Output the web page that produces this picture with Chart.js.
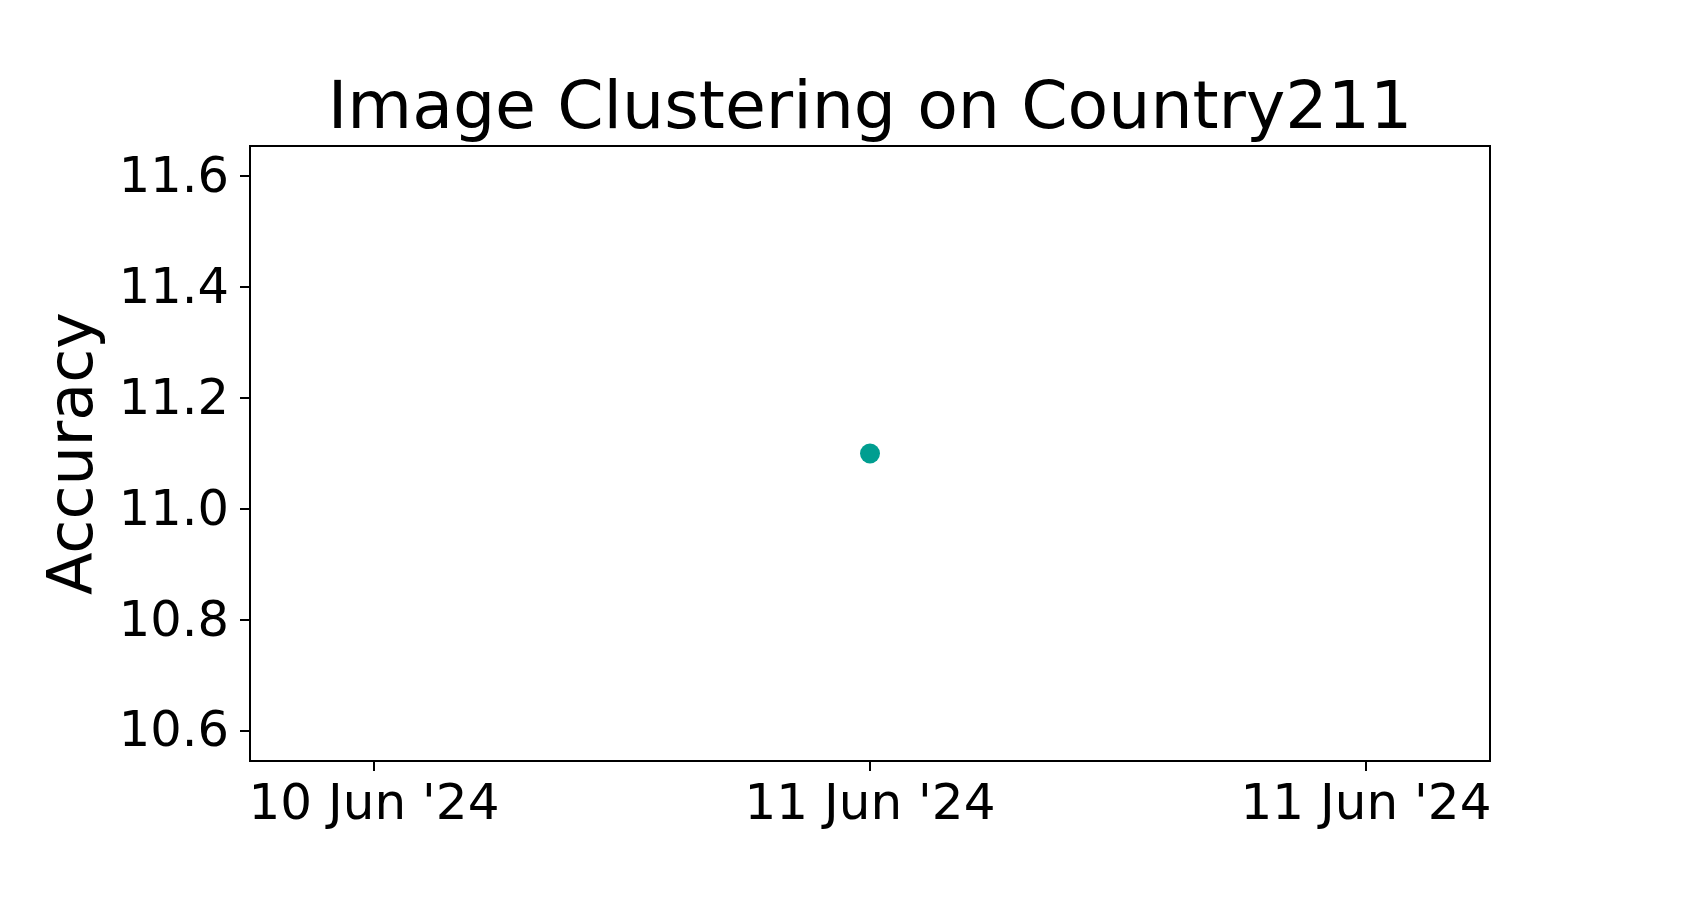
<!DOCTYPE html>
<html>
<head>
  <title>Image Clustering on Country211</title>
  <script src="https://cdn.jsdelivr.net/npm/chart.js"></script>
  <style>
    body {
      margin: 0;
      background: #ffffff;
    }
    #wrap {
      width: 1700px;
      height: 900px;
    }
  </style>
</head>
<body>
  <div id="wrap">
    <canvas id="clusterChart" width="1700" height="900"></canvas>
  </div>

  <script>
    // data
    const xTickPositions = [-1, 0, 1];
    const xTickLabels = ["10 Jun '24", "11 Jun '24", "11 Jun '24"];
    const pointX = [0];
    const accuracy = [11.1];
    const yTickValues = [10.6, 10.8, 11.0, 11.2, 11.4, 11.6];

    Chart.defaults.font.family = "'DejaVu Sans', sans-serif";
    Chart.defaults.color = '#000000';

    // matplotlib style box round the plot area
    const frame = {
      id: 'frame',
      afterDatasetsDraw(chart) {
        const a = chart.chartArea;
        const c = chart.ctx;
        c.save();
        c.strokeStyle = '#000000';
        c.lineWidth = 2;
        c.strokeRect(a.left, a.top, a.right - a.left, a.bottom - a.top);
        c.restore();
      }
    };

    const ctx = document.getElementById('clusterChart').getContext('2d');
    const chart = new Chart(ctx, {
      type: 'scatter',
      data: {
        datasets: [{
          label: 'Accuracy',
          data: pointX.map((x, i) => ({ x: x, y: accuracy[i] })),
          backgroundColor: '#009e90',
          borderWidth: 0,
          pointRadius: 10,
          pointHoverRadius: 10
        }]
      },
      options: {
        responsive: false,
        animation: false,
        devicePixelRatio: 1,
        layout: {
          padding: { left: 0, right: 210, top: 0, bottom: 0 }
        },
        plugins: {
          legend: { display: false },
          tooltip: { enabled: false },
          title: {
            display: true,
            text: 'Image Clustering on Country211',
            fullSize: false,
            color: '#000000',
            font: { size: 66.5, weight: 'normal', lineHeight: 1.0526 },
            padding: { top: 76, bottom: 0 }
          }
        },
        scales: {
          x: {
            type: 'linear',
            min: -1.25,
            max: 1.25,
            afterBuildTicks(scale) {
              scale.ticks = xTickPositions.map(v => ({ value: v }));
            },
            afterFit(scale) {
              scale.height = 139;
            },
            ticks: {
              autoSkip: false,
              maxRotation: 0,
              minRotation: 0,
              padding: 5,
              font: { size: 50 },
              callback(value) {
                const i = xTickPositions.indexOf(value);
                return i >= 0 ? xTickLabels[i] : '';
              }
            },
            grid: {
              drawOnChartArea: false,
              drawTicks: true,
              tickLength: 10,
              lineWidth: 2,
              color: '#000000'
            },
            border: { display: false }
          },
          y: {
            type: 'linear',
            min: 10.545,
            max: 11.655,
            afterBuildTicks(scale) {
              scale.ticks = yTickValues.map(v => ({ value: v }));
            },
            afterFit(scale) {
              scale.width = 250;
            },
            ticks: {
              padding: 11,
              labelOffset: 3,
              font: { size: 49.5 },
              callback(value) {
                return value.toFixed(1);
              }
            },
            grid: {
              drawOnChartArea: false,
              drawTicks: true,
              tickLength: 10,
              lineWidth: 2,
              color: '#000000'
            },
            border: { display: false },
            title: {
              display: true,
              text: 'Accuracy',
              color: '#000000',
              font: { size: 62, weight: 'normal', lineHeight: 1.2 },
              padding: { top: 39, bottom: 0 }
            }
          }
        }
      },
      plugins: [frame]
    });
  </script>
</body>
</html>
